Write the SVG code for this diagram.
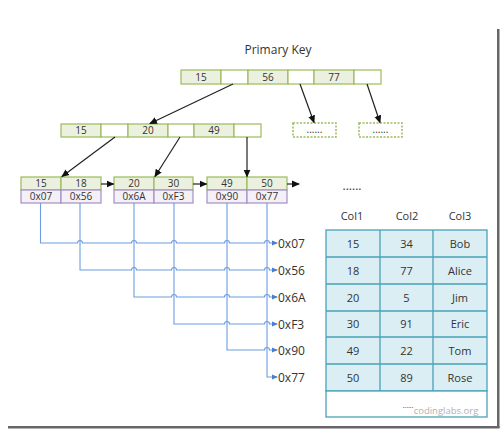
<svg xmlns="http://www.w3.org/2000/svg" width="500" height="432" viewBox="0 0 500 432">
<defs>
<style>
text{font-family:"Open Sans","Noto Sans","Liberation Sans",sans-serif;fill:#333;}
.k{fill:#ebf1de;stroke:#9bbb59;stroke-width:1.2}
.e{fill:#fff;stroke:#9bbb59;stroke-width:1.2}
.v{fill:#f3f0f7;stroke:#a48fc4;stroke-width:1.2}
.d{fill:#fff;stroke:#9bbb59;stroke-width:1.5;stroke-dasharray:2 1.5}
.t{font-size:10px;text-anchor:middle}
.blk{fill:none;stroke:#222;stroke-width:1.2}
.blu{fill:none;stroke:#6b9de0;stroke-width:1.1}
.c{fill:#daeef3;stroke:#4aa3b8;stroke-width:1.3}
.tt{font-size:11px;text-anchor:middle}
.lb{font-size:12px}
</style>
<marker id="ah" markerWidth="8" markerHeight="8" refX="7" refY="4" orient="auto" markerUnits="userSpaceOnUse"><path d="M0,0.5 L8,4 L0,7.5 Z" fill="#111"/></marker>
<marker id="bh" markerWidth="6" markerHeight="6" refX="5" refY="3" orient="auto" markerUnits="userSpaceOnUse"><path d="M0,0.5 L6,3 L0,5.5 Z" fill="#4a7fd0"/></marker>
</defs>
<rect x="0" y="0" width="500" height="432" fill="#fff"/>
<g id="frame">
<rect x="497" y="29" width="2.5" height="399" fill="#666"/>
<rect x="8" y="426" width="491.5" height="2.5" fill="#666"/>
</g>
<text x="278" y="54" font-size="12" text-anchor="middle" class="lb">Primary Key</text>
<g id="root">
<rect class="k" x="181" y="70" width="40" height="14"/><rect class="e" x="221" y="70" width="27" height="14"/>
<rect class="k" x="248" y="70" width="40" height="14"/><rect class="e" x="288" y="70" width="26" height="14"/>
<rect class="k" x="314" y="70" width="40" height="14"/><rect class="e" x="354" y="70" width="27" height="14"/>
<text class="t" x="201" y="80.5">15</text><text class="t" x="268" y="80.5">56</text><text class="t" x="334" y="80.5">77</text>
</g>
<g id="inner">
<rect class="k" x="61" y="124" width="40" height="13"/><rect class="e" x="101" y="124" width="27" height="13"/>
<rect class="k" x="128" y="124" width="40" height="13"/><rect class="e" x="168" y="124" width="26" height="13"/>
<rect class="k" x="194" y="124" width="40" height="13"/><rect class="e" x="234" y="124" width="27" height="13"/>
<text class="t" x="81" y="134">15</text><text class="t" x="148" y="134">20</text><text class="t" x="214" y="134">49</text>
</g>
<g id="dash1"><rect class="d" x="293" y="123" width="43" height="14"/><text class="t" x="314.5" y="133" font-size="7">......</text></g>
<g id="dash2"><rect class="d" x="359" y="123" width="43" height="14"/><text class="t" x="380.5" y="133" font-size="7">......</text></g>
<g id="leaf1">
<rect class="k" x="21" y="177" width="40" height="13"/><rect class="k" x="61" y="177" width="40" height="13"/>
<rect class="v" x="21" y="190" width="40" height="13"/><rect class="v" x="61" y="190" width="40" height="13"/>
<text class="t" x="41" y="187">15</text><text class="t" x="81" y="187">18</text>
<text class="t" x="41" y="200">0x07</text><text class="t" x="81" y="200">0x56</text>
</g>
<g id="leaf2">
<rect class="k" x="114" y="177" width="40" height="13"/><rect class="k" x="154" y="177" width="39" height="13"/>
<rect class="v" x="114" y="190" width="40" height="13"/><rect class="v" x="154" y="190" width="39" height="13"/>
<text class="t" x="134" y="187">20</text><text class="t" x="173.5" y="187">30</text>
<text class="t" x="134" y="200">0x6A</text><text class="t" x="173.5" y="200">0xF3</text>
</g>
<g id="leaf3">
<rect class="k" x="207" y="177" width="40" height="13"/><rect class="k" x="247" y="177" width="40" height="13"/>
<rect class="v" x="207" y="190" width="40" height="13"/><rect class="v" x="247" y="190" width="40" height="13"/>
<text class="t" x="227" y="187">49</text><text class="t" x="267" y="187">50</text>
<text class="t" x="227" y="200">0x90</text><text class="t" x="267" y="200">0x77</text>
</g>
<g id="connectors">
<line class="blk" x1="233" y1="84" x2="150" y2="123.5" marker-end="url(#ah)"/>
<line class="blk" x1="300" y1="84" x2="314" y2="122.5" marker-end="url(#ah)"/>
<line class="blk" x1="367" y1="84" x2="380" y2="122.5" marker-end="url(#ah)"/>
<line class="blk" x1="115" y1="137" x2="62" y2="176.5" marker-end="url(#ah)"/>
<line class="blk" x1="180" y1="137" x2="155" y2="176.5" marker-end="url(#ah)"/>
<line class="blk" x1="247" y1="137" x2="247" y2="176.5" marker-end="url(#ah)"/>
<line class="blk" x1="101" y1="184" x2="113.5" y2="184" marker-end="url(#ah)"/>
<line class="blk" x1="193" y1="184" x2="206.5" y2="184" marker-end="url(#ah)"/>
<line class="blk" x1="287" y1="184" x2="299" y2="184" marker-end="url(#ah)"/>
<path class="blu" d="M40.5,203 V243 H77.5 a2.5,2.5 0 0 1 5,0 H131.5 a2.5,2.5 0 0 1 5,0 H171.5 a2.5,2.5 0 0 1 5,0 H224.5 a2.5,2.5 0 0 1 5,0 H264.5 a2.5,2.5 0 0 1 5,0 H277" marker-end="url(#bh)"/>
<path class="blu" d="M80,203 V270 H131.5 a2.5,2.5 0 0 1 5,0 H171.5 a2.5,2.5 0 0 1 5,0 H224.5 a2.5,2.5 0 0 1 5,0 H264.5 a2.5,2.5 0 0 1 5,0 H277" marker-end="url(#bh)"/>
<path class="blu" d="M134,203 V297 H171.5 a2.5,2.5 0 0 1 5,0 H224.5 a2.5,2.5 0 0 1 5,0 H264.5 a2.5,2.5 0 0 1 5,0 H277" marker-end="url(#bh)"/>
<path class="blu" d="M174,203 V324 H224.5 a2.5,2.5 0 0 1 5,0 H264.5 a2.5,2.5 0 0 1 5,0 H277" marker-end="url(#bh)"/>
<path class="blu" d="M227,203 V350 H264.5 a2.5,2.5 0 0 1 5,0 H277" marker-end="url(#bh)"/>
<path class="blu" d="M267,203 V377 H277" marker-end="url(#bh)"/>
</g>
<g id="addrs">
<text class="lb" x="278" y="247.5">0x07</text>
<text class="lb" x="278" y="274.5">0x56</text>
<text class="lb" x="278" y="301.5">0x6A</text>
<text class="lb" x="278" y="328.5">0xF3</text>
<text class="lb" x="278" y="354.5">0x90</text>
<text class="lb" x="278" y="381.5">0x77</text>
</g>
<text x="352" y="190" font-size="12" text-anchor="middle">......</text>
<g id="table">
<text class="tt" x="352" y="220">Col1</text><text class="tt" x="407" y="220">Col2</text><text class="tt" x="460" y="220">Col3</text>
<rect class="c" x="326" y="230" width="161" height="161"/>
<rect x="326" y="391" width="161" height="26" fill="#fff" stroke="#4aa3b8" stroke-width="1.3"/>
<path d="M326,257 H487 M326,284 H487 M326,311 H487 M326,337 H487 M326,364 H487 M380,230 V391 M433,230 V391" stroke="#4aa3b8" stroke-width="1.3" fill="none"/>
<text class="tt" x="353" y="247.5">15</text><text class="tt" x="406.5" y="247.5">34</text><text class="tt" x="460" y="247.5">Bob</text>
<text class="tt" x="353" y="274.5">18</text><text class="tt" x="406.5" y="274.5">77</text><text class="tt" x="460" y="274.5">Alice</text>
<text class="tt" x="353" y="301.5">20</text><text class="tt" x="406.5" y="301.5">5</text><text class="tt" x="460" y="301.5">Jim</text>
<text class="tt" x="353" y="328">30</text><text class="tt" x="406.5" y="328">91</text><text class="tt" x="460" y="328">Eric</text>
<text class="tt" x="353" y="354.5">49</text><text class="tt" x="406.5" y="354.5">22</text><text class="tt" x="460" y="354.5">Tom</text>
<text class="tt" x="353" y="381.5">50</text><text class="tt" x="406.5" y="381.5">89</text><text class="tt" x="460" y="381.5">Rose</text>
<text x="408" y="408" font-size="7" text-anchor="middle">......</text>
<text x="446" y="414" font-size="9.5" text-anchor="middle" style="fill:#b0b0b0">codinglabs.org</text>
</g>
</svg>
